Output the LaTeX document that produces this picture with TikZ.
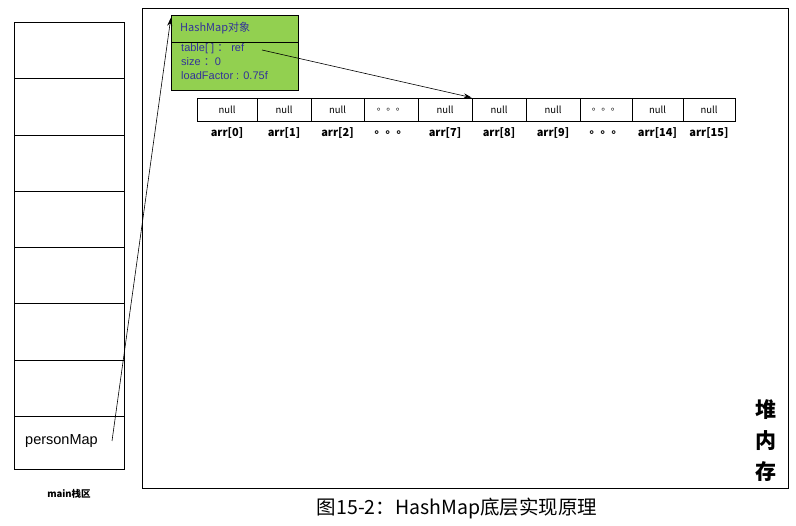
\documentclass[tikz,border=0pt]{standalone}
\usepackage{fontspec}
\setmainfont{Liberation Sans}
\newfontfamily\cjk{Noto Sans CJK SC}
\usetikzlibrary{arrows.meta}
\definecolor{hmgreen}{HTML}{92D050}
\definecolor{hmtext}{HTML}{333399}
\begin{document}
\begin{tikzpicture}[x=1pt,y=-1pt,
  cellbox/.style={draw,thick,minimum height=23pt,inner sep=0pt,font=\fontsize{9.5}{10}\selectfont},
  lbl/.style={font=\bfseries\fontsize{11}{12}\selectfont},
  arr/.style={semithick,-{Stealth[length=8pt,width=5pt]}}]
\useasboundingbox (0,0) rectangle (796,526);
% stack
\foreach \a/\b [count=\i] in {22/78,78/135,135/191,191/247,247/303,303/360,360/416,416/469}
  \node[draw,minimum width=110pt,minimum height={\b-\a},inner sep=0pt] (s\i) at (69,{(\a+\b)/2}) {};
\node[font=\fontsize{14.5}{16}\selectfont,anchor=west,inner sep=0pt] (pm) at (25,441) {personMap};
\coordinate (pmend) at (112,441);
\node[font=\cjk\bfseries\fontsize{9.5}{10}\selectfont] (ml) at (69,494) {main栈区};
% heap
\node[draw,minimum width=646pt,minimum height=480pt,inner sep=0pt] (heap) at (465,248) {};
\node[font=\cjk\bfseries\fontsize{21}{31}\selectfont,align=center] (hl) at (766,441) {堆\\内\\存};
% hashmap box
\node[draw,fill=hmgreen,minimum width=127pt,minimum height=27pt,inner sep=0pt] (hmh) at (234.5,28.5) {};
\node[anchor=west,text=hmtext,font=\cjk\fontsize{11}{12}\selectfont,inner sep=0pt] (hmt) at (180,28) {HashMap对象};
\node[draw,fill=hmgreen,minimum width=127pt,minimum height=48pt,inner sep=0pt] (hmb) at (234.5,66) {};
\node[anchor=north west,text=hmtext,align=left,font=\fontsize{11}{14}\selectfont,inner sep=0pt] (hmf) at (181,43) {table[ ] {\cjk：} ref\\size {\cjk：}0\\loadFactor : 0.75f};
\coordinate (refend) at (262,50);
% array
\foreach \a/\b/\t/\l [count=\i] in {197/257/null/arr[0],257/311/null/arr[1],311/364/null/arr[2],364/418/{。。。}/{。。。},418/472/null/arr[7],472/526/null/arr[8],526/580/null/arr[9],580/632/{。。。}/{。。。},632/683/null/arr[14],683/735/null/arr[15]}{
  \node[cellbox,minimum width={\b-\a}] (c\i) at ({(\a+\b)/2},109.5) {\cjk\t};
  \node[lbl] (l\i) at ({(\a+\b)/2},133) {\cjk\l};
}
% arrows
\draw[arr] (pmend) -- (hmh.south west |- 0,18);
\draw[arr] (refend) -- (c6.north west);
\node[font=\cjk\fontsize{19.5}{21}\selectfont] (cap) at (457,508) {图15-2：HashMap底层实现原理};
\end{tikzpicture}
\end{document}
